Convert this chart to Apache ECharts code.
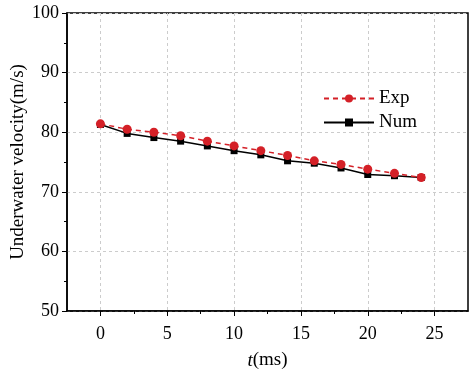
<!DOCTYPE html>
<html>
<head>
    <meta charset="utf-8" />
    <style>
        html, body { margin: 0; padding: 0; background: #fff; }
        #chart { width: 474px; height: 375px; }
    </style>
    <script src="https://cdn.jsdelivr.net/npm/echarts@6/dist/echarts.min.js"></script>
</head>
<body>
    <div id="chart"></div>
    <script type="text/javascript">
        var times = [0, 2, 4, 6, 8, 10, 12, 14, 16, 18, 20, 22, 24];
        var expVals = [81.4, 80.5, 80.0, 79.4, 78.5, 77.7, 76.9, 76.1, 75.2, 74.6, 73.8, 73.1, 72.4];
        var numVals = [81.3, 79.8, 79.1, 78.5, 77.7, 76.9, 76.2, 75.2, 74.8, 74.0, 72.9, 72.7, 72.4];
        var xMajor = [0, 5, 10, 15, 20, 25];
        var xMinor = [2.5, 7.5, 12.5, 17.5, 22.5];

        function pairs(xs, ys) {
            return xs.map(function (x, i) { return [x, ys[i]]; });
        }

        var font = 'Liberation Serif';
        var chart = echarts.init(document.getElementById('chart'));
        var option = {
            backgroundColor: '#fff',
            animation: false,
            grid: {
                left: 67, right: 6, top: 13, bottom: 64,
                containLabel: false, outerBoundsMode: 'none',
                show: true, borderColor: '#000', borderWidth: 1.5
            },
            legend: {
                left: 318, top: 84, orient: 'vertical',
                itemWidth: 50, itemHeight: 10, itemGap: 5,
                textStyle: { fontFamily: font, fontSize: 19, color: '#000' },
                data: ['Exp', 'Num']
            },
            xAxis: [{
                type: 'value', min: -2.5, max: 27.5,
                axisLine: { onZero: false, lineStyle: { color: '#000', width: 1.5 } },
                axisTick: { show: true, length: 5, lineStyle: { color: '#000' }, customValues: xMajor },
                axisLabel: { fontFamily: font, fontSize: 18, color: '#000', margin: 14, customValues: xMajor },
                splitLine: { show: true, lineStyle: { color: '#ccc', type: [3, 3] } },
                name: '{i|t}(ms)', nameLocation: 'middle', nameGap: 40,
                nameTextStyle: { fontFamily: font, fontSize: 19, color: '#000',
                    rich: { i: { fontFamily: font, fontSize: 19, fontStyle: 'italic', color: '#000' } } }
            }, {
                // minor ticks only
                type: 'value', min: -2.5, max: 27.5, position: 'bottom', offset: 0,
                axisLine: { show: false, onZero: false },
                axisTick: { show: true, length: 3, lineStyle: { color: '#000', width: 1 }, customValues: xMinor },
                axisLabel: { show: false },
                splitLine: { show: false }
            }],
            yAxis: {
                type: 'value', min: 50, max: 100, interval: 10,
                axisLine: { show: true, onZero: false, lineStyle: { color: '#000', width: 1.5 } },
                axisTick: { show: true, length: 5, lineStyle: { color: '#000' } },
                minorTick: { show: true, splitNumber: 2, length: 3, lineStyle: { color: '#000' } },
                axisLabel: { fontFamily: font, fontSize: 18, color: '#000', margin: 8 },
                splitLine: { show: true, lineStyle: { color: '#ccc', type: [3, 3] } },
                name: 'Underwater velocity(m/s)', nameLocation: 'middle', nameGap: 39,
                nameMoveOverlap: false,
                nameTextStyle: { fontFamily: font, fontSize: 19, color: '#000' }
            },
            series: [
                {
                    name: 'Exp', type: 'line', data: pairs(times, expVals),
                    symbol: 'circle', symbolSize: 9, z: 3,
                    itemStyle: { color: '#d42027' },
                    lineStyle: { color: '#d42027', width: 1.5, type: [5, 4] }
                },
                {
                    name: 'Num', type: 'line', data: pairs(times, numVals),
                    symbol: 'rect', symbolSize: 7, z: 2,
                    itemStyle: { color: '#000' },
                    lineStyle: { color: '#000', width: 1.5 }
                }
            ]
        };
        chart.setOption(option);
    </script>
</body>
</html>
